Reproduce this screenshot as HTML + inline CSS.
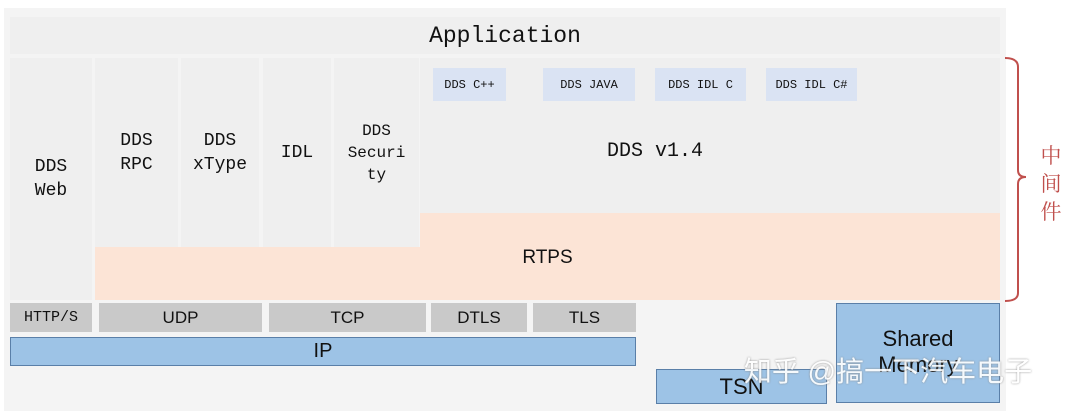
<!DOCTYPE html>
<html><head><meta charset="utf-8"><style>
body{margin:0;width:1080px;height:413px;background:#fff;position:relative;overflow:hidden;font-family:"Liberation Mono",monospace;color:#111}
.a{position:absolute;box-sizing:border-box;display:flex;align-items:center;justify-content:center;text-align:center}
.g{background:#efefef}
.m{font-size:18px;line-height:24px}
.s{background:#dae3f3;font-size:12px}
.p{background:#c9c9c9;font-family:"Liberation Sans",sans-serif;font-size:17px}
.b{background:#9dc3e6;border:1px solid #5a7fa8;font-family:"Liberation Sans",sans-serif;font-size:22px}
</style></head><body>
<div class="a" style="left:4px;top:8px;width:1002px;height:403px;background:#f4f4f4"></div>
<div class="a g" style="left:10px;top:17px;width:990px;height:37px;font-size:23px">Application</div>
<div class="a g" style="left:420px;top:58px;width:580px;height:155px"></div>
<div class="a m" style="left:420px;top:140px;width:470px;height:24px;font-size:20px">DDS v1.4</div>
<div class="a g m" style="left:10px;top:58px;width:82px;height:242px">DDS<br>Web</div>
<div class="a g m" style="left:95px;top:58px;width:83px;height:189px">DDS<br>RPC</div>
<div class="a g m" style="left:181px;top:58px;width:78px;height:189px">DDS<br>xType</div>
<div class="a g m" style="left:263px;top:58px;width:68px;height:189px">IDL</div>
<div class="a g m" style="left:334px;top:58px;width:85px;height:189px;font-size:16px;line-height:22px">DDS<br>Securi<br>ty</div>
<div class="a" style="left:95px;top:247px;width:905px;height:53px;background:#fce4d6"></div>
<div class="a" style="left:420px;top:213px;width:580px;height:40px;background:#fce4d6"></div>
<div class="a" style="left:420px;top:246px;width:255px;height:24px;font-family:'Liberation Sans',sans-serif;font-size:19px">RTPS</div>
<div class="a s" style="left:433px;top:68px;width:73px;height:33px">DDS C++</div>
<div class="a s" style="left:543px;top:68px;width:92px;height:33px">DDS JAVA</div>
<div class="a s" style="left:655px;top:68px;width:91px;height:33px">DDS IDL C</div>
<div class="a s" style="left:766px;top:68px;width:91px;height:33px">DDS IDL C#</div>
<div class="a p" style="left:10px;top:303px;width:82px;height:29px;font-family:'Liberation Mono',monospace;font-size:15px">HTTP/S</div>
<div class="a p" style="left:99px;top:303px;width:163px;height:29px">UDP</div>
<div class="a p" style="left:269px;top:303px;width:157px;height:29px">TCP</div>
<div class="a p" style="left:431px;top:303px;width:96px;height:29px">DTLS</div>
<div class="a p" style="left:533px;top:303px;width:103px;height:29px">TLS</div>
<div class="a b" style="left:10px;top:337px;width:626px;height:29px;font-size:20px">IP</div>
<div class="a b" style="left:656px;top:369px;width:171px;height:35px">TSN</div>
<div class="a b" style="left:836px;top:303px;width:164px;height:100px;align-items:flex-start;padding-top:22px;line-height:26px">Shared<br>Memory</div>
<svg class="a" style="left:1000px;top:55px" width="30" height="252"><path d="M5 3 Q18 3 18 12 V115 Q18 122 26 122 Q18 122 18 129 V238 Q18 246 5 246" fill="none" stroke="#c0504d" stroke-width="2"/></svg>
<div class="a" style="left:1036px;top:141px;width:30px;height:84px;color:#c0504d;font-family:'Noto Serif CJK SC',serif;font-size:21px;line-height:28px">中<br>间<br>件</div>
<div class="a" style="left:718px;top:352px;width:340px;height:36px;color:#fff;font-family:'Liberation Sans','Noto Sans CJK SC',sans-serif;font-size:28px;text-shadow:0 0 2px #888;opacity:.9">知乎 @搞一下汽车电子</div>
</body></html>
